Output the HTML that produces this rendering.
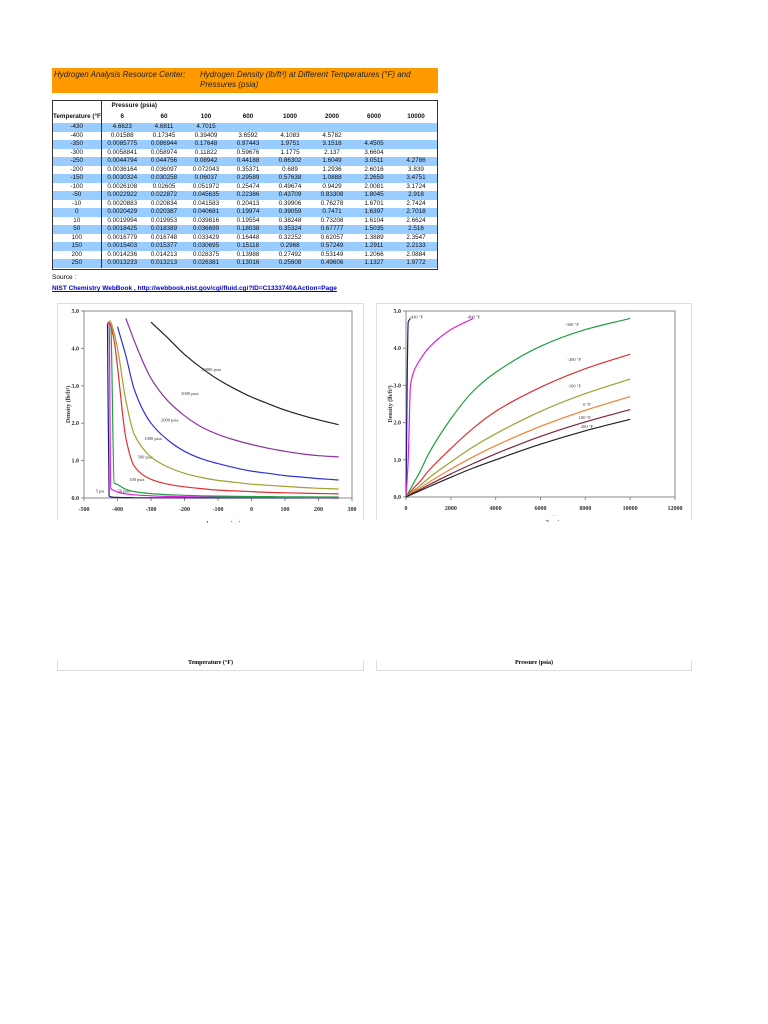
<!DOCTYPE html>
<html><head><meta charset="utf-8">
<style>
body{margin:0;width:768px;height:1024px;background:#fff;position:relative;overflow:hidden;font-family:"Liberation Sans",Arial,sans-serif}
.abs{position:absolute}
#hdr{left:52px;top:68px;width:386px;height:25px;background:#f90;font-style:italic;font-size:8px;color:#222}
#tbl{left:52px;top:100px;width:386px;height:170px;border:1px solid #333;box-sizing:border-box;overflow:hidden}
table{border-collapse:collapse;width:100%;font-size:6.3px;table-layout:fixed;color:#111}
td{height:8.5px;padding:0;text-align:center;line-height:8.5px;white-space:nowrap;overflow:hidden}
td:first-child{border-right:1px solid #333}
tr.b td{background:#9cf}
.hd td{font-weight:bold}
</style></head><body>
<div id="hdr" class="abs">
<span class="abs" style="left:2px;top:2px">Hydrogen Analysis Resource Center:</span>
<span class="abs" style="left:148px;top:2px;width:236px;line-height:10px">Hydrogen Density (lb/ft³) at Different Temperatures (°F) and Pressures (psia)</span>
</div>
<div id="tbl" class="abs">
<table id="t"><colgroup><col style="width:48px"><col><col><col><col><col><col><col><col></colgroup>
<tr class="hd"><td style="height:10px"></td><td colspan="2" style="text-align:left;padding-left:10px;height:10px">Pressure (psia)</td><td colspan="6"></td></tr>
<tr class="hd"><td style="height:12px">Temperature (°F)</td><td>6</td><td>60</td><td>100</td><td>600</td><td>1000</td><td>2000</td><td>6000</td><td>10000</td></tr>
</table></div>
<div class="abs" style="left:52px;top:274px;font-size:6.5px">Source :</div>
<div class="abs" style="left:52px;top:285px;font-size:6.5px;color:#00c;text-decoration:underline;font-weight:bold">NIST Chemistry WebBook , http://webbook.nist.gov/cgi/fluid.cgi?ID=C1333740&amp;Action=Page</div>

<svg class="abs" style="left:0;top:0" width="768" height="1024" id="svg"></svg>
<div class="abs" style="left:40px;top:303px;width:17px;height:216px;background:#fff"></div>
<div class="abs" style="left:57px;top:303px;width:305px;height:216px;border:1px solid #ddd;border-bottom:none"></div>
<div class="abs" style="left:376px;top:303px;width:314px;height:216px;border:1px solid #ddd;border-bottom:none"></div>
<div class="abs" style="left:57px;top:660px;width:305px;height:10px;border:1px solid #ddd;border-top:none;font:bold 6px 'Liberation Serif',serif;text-align:center">Temperature (°F)</div>
<div class="abs" style="left:376px;top:660px;width:314px;height:10px;border:1px solid #ddd;border-top:none;font:bold 6px 'Liberation Serif',serif;text-align:center">Pressure (psia)</div>
<script>
const temps=[-430,-400,-350,-300,-250,-200,-150,-100,-50,-10,0,10,50,100,150,200,250];
const pressures=[6,60,100,600,1000,2000,6000,10000];
const tableRows=[
["4.6623","4.6811","4.7015","","","","",""],
["0.01588","0.17345","0.39409","3.6592","4.1083","4.5782","",""],
["0.0085775","0.086944","0.17648","0.97443","1.9751","3.1518","4.4505",""],
["0.0058841","0.058974","0.11822","0.59676","1.1775","2.137","3.6604",""],
["0.0044794","0.044756","0.08942","0.44188","0.86302","1.6049","3.0511","4.2786"],
["0.0036164","0.036097","0.072043","0.35371","0.689","1.2936","2.6016","3.839"],
["0.0030324","0.030258","0.06037","0.29589","0.57638","1.0888","2.2659","3.4751"],
["0.0026108","0.02605","0.051972","0.25474","0.49674","0.9429","2.0081","3.1724"],
["0.0022922","0.022872","0.045635","0.22386","0.43709","0.83308","1.8045","2.918"],
["0.0020883","0.020834","0.041583","0.20413","0.39906","0.76278","1.6701","2.7424"],
["0.0020429","0.020387","0.040681","0.19974","0.39059","0.7471","1.6397","2.7018"],
["0.0019994","0.019953","0.039816","0.19554","0.38248","0.73208","1.6104","2.6624"],
["0.0018425","0.018389","0.036699","0.18038","0.35324","0.67777","1.5035","2.516"],
["0.0016779","0.016748","0.033429","0.16448","0.32252","0.62057","1.3889","2.3547"],
["0.0015403","0.015377","0.030695","0.15118","0.2968","0.57249","1.2911","2.2133"],
["0.0014236","0.014213","0.028375","0.13988","0.27492","0.53149","1.2066","2.0884"],
["0.0013233","0.013213","0.026381","0.13016","0.25608","0.49606","1.1327","1.9772"]];
const t=document.getElementById('t');
temps.forEach((T,i)=>{const tr=document.createElement('tr');if(i%2==0)tr.className='b';


tr.innerHTML='<td>'+T+'</td>'+tableRows[i].map(v=>'<td>'+v+'</td>').join('');t.appendChild(tr);});

const leftTemps=[-430,-425,-420,-410,-400,-375,-350,-300,-250,-200,-150,-100,-50,0,50,100,150,200,260];
const leftSeriesNames=["5 psi","50 psia","100 psia","500 psia","1000 psia","2000 psia","5000 psia","10000 psia"];
const leftColors=["#1a1a80","#e020e0","#20a040","#e03030","#a0a030","#3030e0","#9030a0","#222"];
const left5=[4.66,0.05,0.03,0.02,0.016,0.011,0.009,0.006,0.0045,0.0036,0.003,0.0026,0.0023,0.002,0.0018,0.0017,0.0015,0.0014,0.0013];
const left50=[4.66,4.66,0.25,0.2,0.16,0.11,0.085,0.058,0.044,0.036,0.03,0.026,0.023,0.02,0.018,0.017,0.015,0.014,0.013];
const left100=[4.7,4.69,4.6,0.4,0.36,0.23,0.17,0.118,0.089,0.072,0.06,0.052,0.046,0.041,0.037,0.033,0.031,0.028,0.026];
const left500=[4.7,4.68,4.6,4.2,3.5,1.6,0.85,0.5,0.37,0.3,0.25,0.21,0.19,0.17,0.15,0.14,0.13,0.12,0.11];
const left1000=[null,4.75,4.7,4.4,4.0,2.6,1.7,1.1,0.83,0.66,0.55,0.47,0.42,0.37,0.34,0.31,0.28,0.26,0.24];
const left2000=[null,null,null,null,4.58,3.8,2.9,2.0,1.55,1.25,1.05,0.92,0.81,0.72,0.66,0.6,0.56,0.52,0.48];
const left5000=[null,null,null,null,null,4.8,4.2,3.2,2.6,2.2,1.9,1.7,1.55,1.43,1.33,1.25,1.18,1.13,1.1];
const left10000=[null,null,null,null,null,null,null,4.7,4.28,3.84,3.48,3.17,2.92,2.7,2.52,2.35,2.21,2.09,1.96];
const leftSeries=[left5,left50,left100,left500,left1000,left2000,left5000,left10000];
const leftLabelPos=[[-465,0.15],[-400,0.15],[-365,0.45],[-340,1.05],[-320,1.55],[-270,2.05],[-210,2.75],[-150,3.4]];

const rightPress=[0,100,200,400,600,1000,2000,3000,4000,6000,8000,10000];
const rightSeriesNames=["-430 °F","-400 °F","-300 °F","-200 °F","-100 °F","0 °F","100 °F","200 °F"];
const rightColors=["#1a1a80","#e020e0","#20a040","#e03030","#a0a030","#f08030","#802040","#222"];
const r430=[0,4.7,4.8,null,null,null,null,null,null,null,null,null];
const r400=[0,1.0,3.0,3.45,3.66,4.0,4.5,4.8,null,null,null,null];
const r300=[0,0.11,0.22,0.44,0.65,1.15,2.1,2.85,3.35,4.05,4.5,4.8];
const r200=[0,0.07,0.14,0.28,0.4,0.7,1.3,1.85,2.3,2.95,3.45,3.84];
const r100=[0,0.05,0.1,0.2,0.29,0.5,0.94,1.35,1.7,2.3,2.78,3.17];
const r0=[0,0.04,0.08,0.16,0.23,0.39,0.75,1.08,1.38,1.9,2.33,2.7];
const r100p=[0,0.034,0.067,0.13,0.19,0.32,0.62,0.9,1.16,1.63,2.02,2.35];
const r200p=[0,0.028,0.057,0.11,0.16,0.27,0.53,0.78,1.0,1.42,1.78,2.09];
const rightSeries=[r430,r400,r300,r200,r100,r0,r100p,r200p];
const rightLabelPos=[[150,4.8],[2700,4.8],[7100,4.6],[7200,3.65],[7200,2.95],[7900,2.45],[7700,2.1],[7800,1.85]];
const xTicksL=[-500,-400,-300,-200,-100,0,100,200,300];
const xTicksR=[0,2000,4000,6000,8000,10000,12000];
const yTicks=[0,1,2,3,4,5];

const svg=document.getElementById('svg');const NS='http://www.w3.org/2000/svg';
function mk(tag,attrs,parent){const e=document.createElementNS(NS,tag);for(const k in attrs)e.setAttribute(k,attrs[k]);(parent||svg).appendChild(e);return e;}
function mono(p){const n=p.length;if(n<2)return '';
 const d=[],m=[];for(let i=0;i<n-1;i++)d.push((p[i+1][1]-p[i][1])/(p[i+1][0]-p[i][0]));
 m[0]=d[0];m[n-1]=d[n-2];
 for(let i=1;i<n-1;i++){if(d[i-1]*d[i]>0){const w1=2*(p[i+1][0]-p[i][0])+(p[i][0]-p[i-1][0]),w2=(p[i+1][0]-p[i][0])+2*(p[i][0]-p[i-1][0]);m[i]=(w1+w2)/(w1/d[i-1]+w2/d[i]);}else m[i]=0;}
 let s='M'+p[0][0].toFixed(1)+','+p[0][1].toFixed(1);
 for(let i=0;i<n-1;i++){const h=(p[i+1][0]-p[i][0])/3;
  s+='C'+(p[i][0]+h).toFixed(1)+','+(p[i][1]+m[i]*h).toFixed(1)+' '+(p[i+1][0]-h).toFixed(1)+','+(p[i+1][1]-m[i+1]*h).toFixed(1)+' '+p[i+1][0].toFixed(1)+','+p[i+1][1].toFixed(1);}
 return s;}
function chart(cfg){
 const {x0,x1,y0,y1,xmin,xmax,xs,series,colors,names,labels,xTicks,prefix,xTitle}=cfg;
 const X=v=>x0+(v-xmin)/(xmax-xmin)*(x1-x0);const Y=v=>y0-(v/5)*(y0-y1);
 const g=mk('g',{});
 
 
 const f=mk('rect',{x:x0,y:y1,width:x1-x0,height:y0-y1,fill:'#fff',stroke:'#888','stroke-width':1},g);
 
 
 yTicks.forEach(v=>{const tx=mk('text',{x:x0-5,y:Y(v)+2,'text-anchor':'end','font-size':6,'font-weight':'bold','font-family':'Liberation Serif,serif',fill:'#333'},g);tx.textContent=v.toFixed(1);
  
  
  mk('line',{x1:x0-3,x2:x0,y1:Y(v),y2:Y(v),stroke:'#888'},g);});
 xTicks.forEach(v=>{const tx=mk('text',{x:X(v),y:y0+13,'text-anchor':'middle','font-size':6,'font-weight':'bold','font-family':'Liberation Serif,serif',fill:'#333'},g);tx.textContent=v;
  
  
  mk('line',{x1:X(v),x2:X(v),y1:y0,y2:y0+3,stroke:'#888'},g);});
 const yt=mk('text',{x:0,y:0,transform:`translate(${x0-14},${(y0+y1)/2}) rotate(-90)`,'text-anchor':'middle','font-size':6,'font-weight':'bold','font-family':'Liberation Serif,serif',fill:'#333'},g);yt.textContent='Density (lb/ft³)';
 
 
 const xt=mk('text',{x:(x0+x1)/2,y:y0+23,'text-anchor':'middle','font-size':6,'font-weight':'bold','font-family':'Liberation Serif,serif',fill:'#333'},g);xt.textContent=xTitle;
 
 
 series.forEach((s,i)=>{const pts=[];s.forEach((v,j)=>{if(v!=null)pts.push([X(xs[j]),Y(v)]);});
  const p=mk('path',{d:mono(pts),fill:'none',stroke:colors[i],'stroke-width':1.2,'stroke-linejoin':'round'},g);
  
  
  const lt=mk('text',{x:X(labels[i][0]),y:Y(labels[i][1]),'font-size':4.5,'font-family':'Liberation Serif,serif',fill:'#333'},g);lt.textContent=names[i];
  
  });
 mk('rect',{x:x0-40,y:y0+19,width:x1-x0+80,height:4,fill:'#fff'},g);
}
chart({x0:84,x1:352,y0:498,y1:311,xmin:-500,xmax:300,xs:leftTemps,series:leftSeries,colors:leftColors,names:leftSeriesNames,labels:leftLabelPos,xTicks:xTicksL,prefix:'left',xTitle:'Temperature (°F)'});
chart({x0:406,x1:675,y0:497,y1:311,xmin:0,xmax:12000,xs:rightPress,series:rightSeries,colors:rightColors,names:rightSeriesNames,labels:rightLabelPos,xTicks:xTicksR,prefix:'right',xTitle:'Pressure (psia)'});
</script>
</body></html>
